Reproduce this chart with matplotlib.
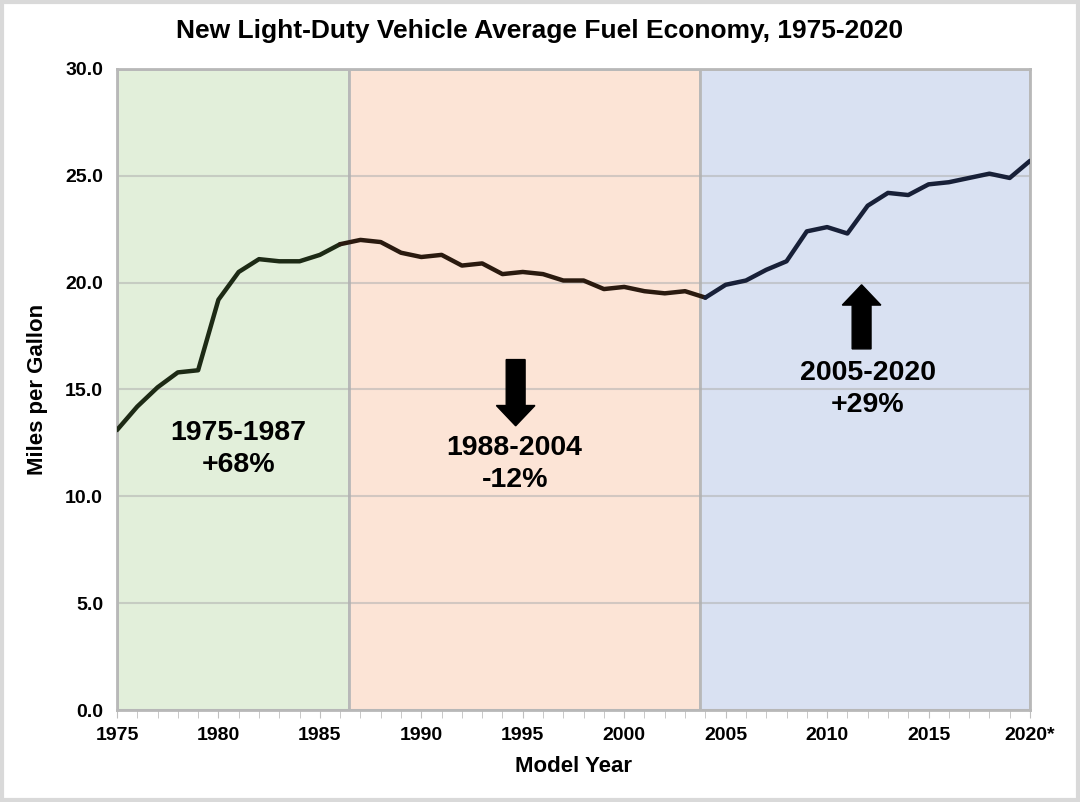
import numpy as np
import matplotlib.pyplot as plt
import matplotlib.patches as mpatches

plt.rcParams['font.family'] = ['Liberation Sans', 'DejaVu Sans']
plt.rcParams['font.weight'] = 'bold'

years = list(range(1975, 2021))
mpg = [13.1, 14.2, 15.1, 15.8, 15.9, 19.2, 20.5, 21.1, 21.0, 21.0,
       21.3, 21.8, 22.0, 21.9, 21.4, 21.2, 21.3, 20.8, 20.9, 20.4,
       20.5, 20.4, 20.1, 20.1, 19.7, 19.8, 19.6, 19.5, 19.6, 19.3,
       19.9, 20.1, 20.6, 21.0, 22.4, 22.6, 22.3, 23.6, 24.2, 24.1,
       24.6, 24.7, 24.9, 25.1, 24.9, 25.7]

periods = [(1975, 1986.45), (1986.45, 2003.75), (2003.75, 2020)]
period_colors = ['#e2efda', '#fce4d6', '#d9e1f2']
seg_years = [(1975, 1986), (1986, 2004), (2004, 2020)]
seg_colors = ['#1d2a15', '#2a1a0f', '#182038']
labels = ['1975-1987\n+68%', '1988-2004\n-12%', '2005-2020\n+29%']
label_pos = [(1981.0, 12.2), (1994.6, 11.5), (2012.0, 15.0)]

xticks = list(range(1975, 2021, 5))
xticklabels = [str(y) for y in xticks[:-1]] + ['2020*']

fig = plt.figure(figsize=(10.8, 8.02), dpi=100)
ax = fig.add_axes([0.1083, 0.1147, 0.8454, 0.7993])

for (x0, x1), c in zip(periods, period_colors):
    ax.axvspan(x0, x1, facecolor=c, edgecolor='#b8b8b8', linewidth=2, zorder=1)

ax.set_axisbelow('line')
ax.yaxis.grid(True, color='#b0b0b0', alpha=0.55, linewidth=1.5)

yr = np.array(years)
val = np.array(mpg)
for (a, b), c in zip(seg_years, seg_colors):
    m = (yr >= a) & (yr <= b)
    ax.plot(yr[m], val[m], color=c, linewidth=3.2, zorder=3, solid_capstyle='round')

for (x, y), t in zip(label_pos, labels):
    ax.text(x, y, t, ha='center', va='center', fontsize=20.5, fontweight='bold',
            linespacing=1.3, zorder=4)

# block arrows
ax.add_patch(mpatches.FancyArrow(1994.65, 16.4, 0, -3.1, width=0.93, head_width=1.9,
                                 head_length=0.95, length_includes_head=True,
                                 color='black', zorder=4))
ax.add_patch(mpatches.FancyArrow(2011.7, 16.9, 0, 3.0, width=0.93, head_width=1.9,
                                 head_length=0.95, length_includes_head=True,
                                 color='black', zorder=4))

ax.set_xlim(1975, 2020)
ax.set_ylim(0, 30)
ax.set_xticks(xticks)
ax.set_xticklabels(xticklabels)
ax.set_xticks(years, minor=True)
ax.set_yticks(np.arange(0, 31, 5))
ax.set_yticklabels([f'{v:.1f}' for v in np.arange(0, 31, 5)])
ax.tick_params(axis='x', which='both', direction='out', length=6, color='#bfbfbf',
               labelsize=14, pad=6)
ax.tick_params(axis='y', length=0, labelsize=14, pad=10)
for s in ax.spines.values():
    s.set_color('#b8b8b8')
    s.set_linewidth(2)

ax.set_xlabel('Model Year', fontsize=16, fontweight='bold', labelpad=9)
ax.set_ylabel('Miles per Gallon', fontsize=16, fontweight='bold', labelpad=12)
fig.suptitle('New Light-Duty Vehicle Average Fuel Economy, 1975-2020',
             fontsize=19, fontweight='bold', y=0.976)

fig.patches.append(mpatches.Rectangle((0.002, 0.002), 0.996, 0.996, transform=fig.transFigure,
                                      fill=False, edgecolor='#d9d9d9', linewidth=3))

fig.savefig('out.png', dpi=100)
